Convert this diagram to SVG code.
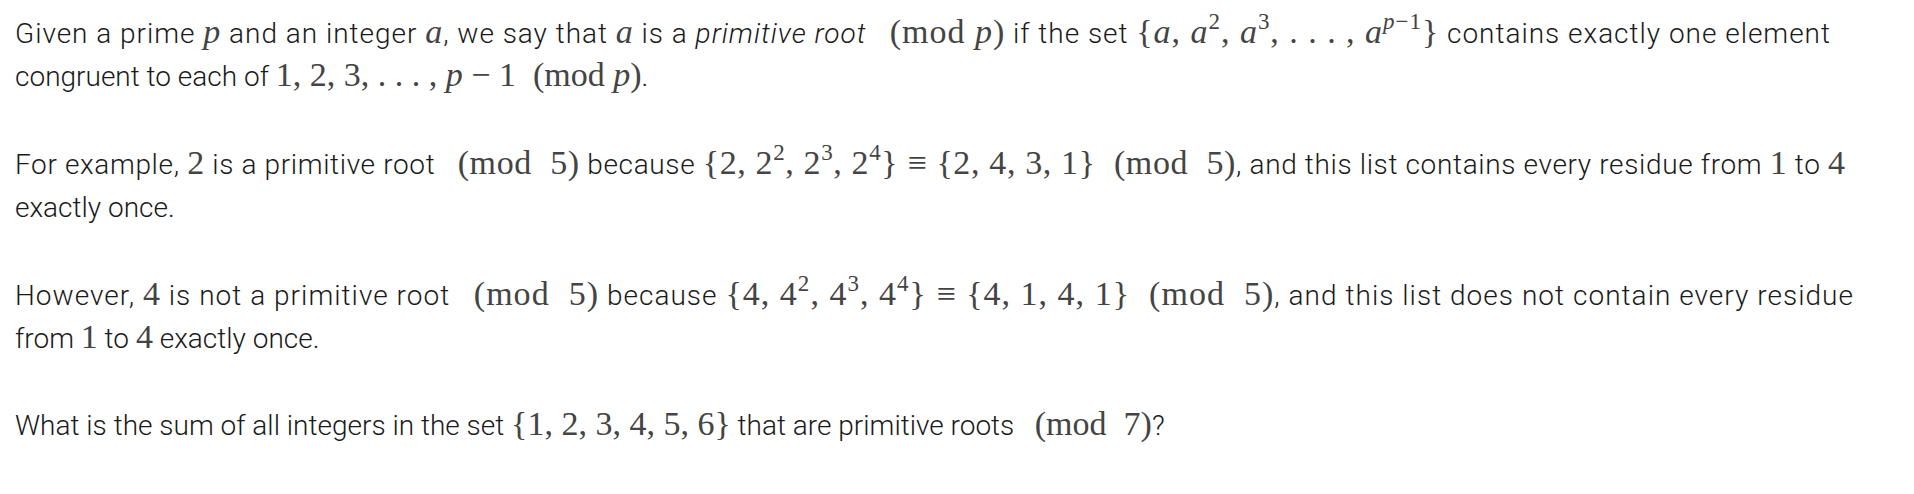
<svg xmlns="http://www.w3.org/2000/svg" width="1914" height="494" viewBox="0 0 1914 494">
<style>
.t{font-family:Roboto,"Liberation Sans",sans-serif;font-size:28px;font-weight:300;fill:#1a1a1a}
.i{font-style:italic}
.m{font-family:"Liberation Serif","DejaVu Serif",serif;font-size:34px;fill:#444}
.v{font-style:italic}
.s{font-size:23px}
</style>
<rect width="1914" height="494" fill="#fff"/>
<g id="para1">
<text class="t" x="15" y="43" textLength="1815" lengthAdjust="spacing">Given a prime <tspan class="m v">p</tspan> and an integer <tspan class="m v">a</tspan>, we say that <tspan class="m v">a</tspan> is a <tspan class="i">primitive root</tspan>&#160;&#160; <tspan class="m">(mod&#160;<tspan class="v">p</tspan>)</tspan> if the set <tspan class="m">{<tspan class="v">a</tspan>, <tspan class="v">a</tspan><tspan class="s" dy="-14">2</tspan><tspan dy="14">, </tspan><tspan class="v">a</tspan><tspan class="s" dy="-14">3</tspan><tspan dy="14">, . . . , </tspan><tspan class="v">a</tspan><tspan class="s" dy="-14"><tspan class="v">p</tspan>−1</tspan><tspan dy="14">}</tspan></tspan> contains exactly one element</text>
<text class="t" x="15" y="86">congruent to each of <tspan class="m">1, 2, 3, . . . , <tspan class="v">p</tspan> − 1&#160;&#160;(mod&#160;<tspan class="v">p</tspan>)</tspan>.</text>
</g>
<g id="para2">
<text class="t" x="15" y="174" textLength="1830" lengthAdjust="spacing">For example, <tspan class="m">2</tspan> is a primitive root&#160;&#160; <tspan class="m">(mod&#160;&#160;5)</tspan> because <tspan class="m">{2, 2<tspan class="s" dy="-14">2</tspan><tspan dy="14">, 2</tspan><tspan class="s" dy="-14">3</tspan><tspan dy="14">, 2</tspan><tspan class="s" dy="-14">4</tspan><tspan dy="14">} ≡ {2, 4, 3, 1}&#160;&#160;(mod&#160;&#160;5)</tspan></tspan>, and this list contains every residue from <tspan class="m">1</tspan> to <tspan class="m">4</tspan></text>
<text class="t" x="15" y="217">exactly once.</text>
</g>
<g id="para3">
<text class="t" x="15" y="305" textLength="1838" lengthAdjust="spacing">However, <tspan class="m">4</tspan> is not a primitive root&#160;&#160; <tspan class="m">(mod&#160;&#160;5)</tspan> because <tspan class="m">{4, 4<tspan class="s" dy="-14">2</tspan><tspan dy="14">, 4</tspan><tspan class="s" dy="-14">3</tspan><tspan dy="14">, 4</tspan><tspan class="s" dy="-14">4</tspan><tspan dy="14">} ≡ {4, 1, 4, 1}&#160;&#160;(mod&#160;&#160;5)</tspan></tspan>, and this list does not contain every residue</text>
<text class="t" x="15" y="348">from <tspan class="m">1</tspan> to <tspan class="m">4</tspan> exactly once.</text>
</g>
<g id="para4">
<text class="t" x="15" y="435">What is the sum of all integers in the set <tspan class="m">{1, 2, 3, 4, 5, 6}</tspan> that are primitive roots&#160;&#160; <tspan class="m">(mod&#160;&#160;7)</tspan>?</text>
</g>
<g id="connectors"/>
</svg>
